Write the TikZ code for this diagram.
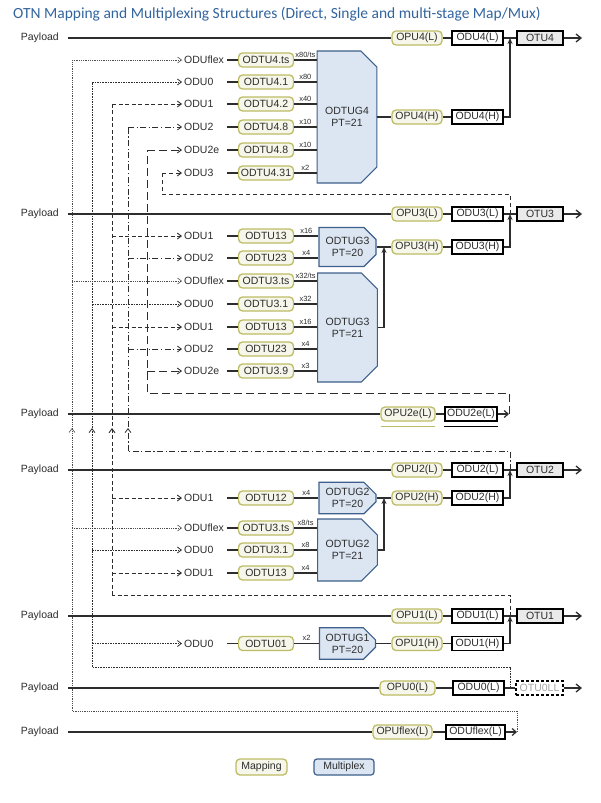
\documentclass[tikz,border=0pt]{standalone}
\usepackage{fontspec}
\setmainfont{Liberation Sans}
\newfontfamily\ttlfont{Carlito}
\usetikzlibrary{arrows.meta,shapes.misc,calc,decorations.markings}
\definecolor{ttl}{RGB}{50,100,158}
\definecolor{mapd}{RGB}{188,188,100}
\definecolor{mapf}{RGB}{246,246,234}
\definecolor{muxd}{RGB}{62,96,140}
\definecolor{muxf}{RGB}{220,230,242}
\definecolor{otuf}{RGB}{234,234,234}
\definecolor{ink}{RGB}{45,45,45}
\newcommand\otnrow[8]{%
  \node[lbl,anchor=west] (l#1) at (183,#2) {#3};
  \node[mapbox,minimum width=55] (t#1) at (266,#2) {#4};
  \draw[#7,-{Straight Barb[length=4pt,width=6pt]}] (l#1.west -| #6) -- ($(l#1.west)+(-1,0)$);
  \draw[conn] ($(t#1.west)+(-11,0)$) -- (t#1.west);
  \draw[conn] (t#1.east) -- (t#1.east -| #8.west) node[mult,midway] {#5};
}
\begin{document}
\begin{tikzpicture}[x=1pt,y=-1pt,
  lbl/.style={font=\fontsize{10.5}{12}\selectfont,text=ink,inner sep=1pt},
  mapbox/.style={lbl,draw=mapd,fill=mapf,rounded corners=4pt,line width=1.3pt,minimum height=14pt,inner sep=1.5pt},
  odubox/.style={lbl,draw=black,fill=white,line width=1.2pt,minimum height=14pt,inner sep=1.5pt},
  otubox/.style={odubox,fill=otuf},
  muxbox/.style={lbl,chamfered rectangle,chamfered rectangle corners={north east,south east},
    chamfered rectangle xsep=8pt,chamfered rectangle ysep=8pt,draw=muxd,fill=muxf,line width=1.1pt,
    align=center,inner sep=0pt},
  smallmux/.style={muxbox,chamfered rectangle xsep=6pt,chamfered rectangle ysep=6pt},
  conn/.style={draw=ink,line width=1.2pt},
  pay/.style={draw=ink,line width=1.3pt},
  mult/.style={font=\fontsize{7.5}{8}\selectfont,text=ink,inner sep=0.5pt,above=1.5pt},
  outarrow/.style={pay,-{Straight Barb[length=5pt,width=8pt]}},
  uparr/.style={conn,-{Stealth[length=6pt,width=5pt]}},
  sflex/.style={draw=ink!85,line width=0.6pt,dash pattern=on 0.8pt off 1pt},
  szero/.style={draw=ink,line width=0.8pt,dash pattern=on 1.6pt off 1pt},
  sone/.style={draw=ink,line width=0.9pt,dash pattern=on 4pt off 2.5pt},
  stwo/.style={draw=ink,line width=0.8pt,dash pattern=on 6pt off 2.5pt on 1.2pt off 2.5pt},
  stwoe/.style={draw=ink,line width=0.9pt,dash pattern=on 8pt off 4pt},
  sthree/.style={draw=ink,line width=0.9pt,dash pattern=on 4pt off 3pt},
  midup/.style={postaction={decorate},decoration={markings,mark=at position #1pt with {\arrow{Straight Barb[length=4pt,width=6pt]}}}}
]
\useasboundingbox (0,0) rectangle (600,803);

% title
\node[anchor=base west,font=\ttlfont\fontsize{15.5}{18}\selectfont,text=ttl,inner sep=0] (title) at (13,18)
  {OTN Mapping and Multiplexing Structures (Direct, Single and multi-stage Map/Mux)};

% payload labels
\node[lbl,anchor=east] (pl1) at (60,38) {Payload};
\node[lbl,anchor=east] (pl2) at (60,214) {Payload};
\node[lbl,anchor=east] (pl3) at (60,414) {Payload};
\node[lbl,anchor=east] (pl4) at (60,470) {Payload};
\node[lbl,anchor=east] (pl5) at (60,616) {Payload};
\node[lbl,anchor=east] (pl6) at (60,688) {Payload};
\node[lbl,anchor=east] (pl7) at (60,732) {Payload};

% vertical positions
\coordinate (vflex) at (72,0);
\coordinate (vzero) at (92,0);
\coordinate (vone) at (112,0);
\coordinate (vtwo) at (128,0);
\coordinate (vtwoe) at (147,0);
\coordinate (vthree) at (162,0);
\coordinate (cflex) at (72,711);
\coordinate (czero) at (92,667);
\coordinate (cone) at (112,595);
\coordinate (ctwo) at (128,451);
\coordinate (ctwoe) at (147,393);
\coordinate (cthree) at (162,194);

% ---------- ODU4 ----------
\node[mapbox,minimum width=50] (opu4l) at (417,38) {OPU4(L)};
\node[odubox,minimum width=51] (odu4l) at (477.5,38) {ODU4(L)};
\node[otubox,minimum width=46] (otu4) at (540,38) {OTU4};
\coordinate (end4) at (582,38);
\coordinate (j4) at ($(odu4l.east)!0.5!(otu4.west)$);
\node[mapbox,minimum width=50] (opu4h) at (417,117) {OPU4(H)};
\node[odubox,minimum width=51] (odu4h) at (477.5,117) {ODU4(H)};
\node[muxbox,minimum width=57,minimum height=132] (mux4) at (347,117) {ODTUG4\\PT=21};

% ---------- ODU3 ----------
\node[mapbox,minimum width=50] (opu3l) at (417,214) {OPU3(L)};
\node[odubox,minimum width=51] (odu3l) at (477.5,214) {ODU3(L)};
\node[otubox,minimum width=46] (otu3) at (540,214) {OTU3};
\coordinate (end3) at (582,214);
\coordinate (j3) at ($(odu3l.east)!0.5!(otu3.west)$);
\node[mapbox,minimum width=50] (opu3h) at (417,247) {OPU3(H)};
\node[odubox,minimum width=51] (odu3h) at (477.5,247) {ODU3(H)};
\node[smallmux,minimum width=57,minimum height=39] (mux3a) at (347.5,247) {ODTUG3\\PT=20};
\node[muxbox,minimum width=57,minimum height=109] (mux3b) at (347.5,327.5) {ODTUG3\\PT=21};
\coordinate (k3) at (384,247);

% ---------- ODU2e ----------
\node[mapbox,minimum width=54] (opu2el) at (408,414) {OPU2e(L)};
\node[odubox,minimum width=52] (odu2el) at (471,414) {ODU2e(L)};
\coordinate (e2e) at (509,414);

% ---------- ODU2 ----------
\node[mapbox,minimum width=50] (opu2l) at (417,470) {OPU2(L)};
\node[odubox,minimum width=51] (odu2l) at (477.5,470) {ODU2(L)};
\node[otubox,minimum width=46] (otu2) at (540,470) {OTU2};
\coordinate (end2) at (582,470);
\coordinate (j2) at ($(odu2l.east)!0.5!(otu2.west)$);
\node[mapbox,minimum width=50] (opu2h) at (417,498) {OPU2(H)};
\node[odubox,minimum width=51] (odu2h) at (477.5,498) {ODU2(H)};
\node[smallmux,minimum width=57,minimum height=27] (mux2a) at (347.5,498) {ODTUG2\\PT=20};
\node[muxbox,minimum width=57,minimum height=62] (mux2b) at (347.5,550) {ODTUG2\\PT=21};
\coordinate (k2) at (384,498);

% ---------- ODU1 ----------
\node[mapbox,minimum width=50] (opu1l) at (417,616) {OPU1(L)};
\node[odubox,minimum width=51] (odu1l) at (477.5,616) {ODU1(L)};
\node[otubox,minimum width=46] (otu1) at (540,616) {OTU1};
\coordinate (end1) at (582,616);
\coordinate (j1) at ($(odu1l.east)!0.5!(otu1.west)$);
\node[mapbox,minimum width=50] (opu1h) at (417,643.5) {OPU1(H)};
\node[odubox,minimum width=51] (odu1h) at (477.5,643.5) {ODU1(H)};
\node[smallmux,minimum width=56,minimum height=27] (mux1) at (347.5,643.5) {ODTUG1\\PT=20};

% ---------- ODU0 ----------
\node[mapbox,minimum width=55] (opu0l) at (407.5,688) {OPU0(L)};
\node[odubox,minimum width=51] (odu0l) at (478.5,688) {ODU0(L)};
\node[otubox,fill=white,dash pattern=on 3pt off 2pt,minimum width=47,text=black!35] (otu0) at (539.5,688) {OTU0LL};
\coordinate (end0) at (582,688);
\coordinate (j0) at ($(odu0l.east)!0.5!(otu0.west)$);

% ---------- ODUflex ----------
\node[mapbox,minimum width=59] (opufl) at (402.5,732) {OPUflex(L)};
\node[odubox,minimum width=59] (odufl) at (475.5,732) {ODUflex(L)};
\coordinate (eflex) at (517,732);

% ---------- tributary rows ----------
\otnrow{a1}{60}{ODUflex}{ODTU4.ts}{x80/ts}{vflex}{sflex}{mux4}
\otnrow{a2}{82}{ODU0}{ODTU4.1}{x80}{vzero}{szero}{mux4}
\otnrow{a3}{104}{ODU1}{ODTU4.2}{x40}{vone}{sone}{mux4}
\otnrow{a4}{127}{ODU2}{ODTU4.8}{x10}{vtwo}{stwo}{mux4}
\otnrow{a5}{150}{ODU2e}{ODTU4.8}{x10}{vtwoe}{stwoe}{mux4}
\otnrow{a6}{173}{ODU3}{ODTU4.31}{x2}{vthree}{sthree}{mux4}
\otnrow{b1}{236}{ODU1}{ODTU13}{x16}{vone}{sone}{mux3a}
\otnrow{b2}{258}{ODU2}{ODTU23}{x4}{vtwo}{stwo}{mux3a}
\otnrow{b3}{281}{ODUflex}{ODTU3.ts}{x32/ts}{vflex}{sflex}{mux3b}
\otnrow{b4}{304}{ODU0}{ODTU3.1}{x32}{vzero}{szero}{mux3b}
\otnrow{b5}{327}{ODU1}{ODTU13}{x16}{vone}{sone}{mux3b}
\otnrow{b6}{349}{ODU2}{ODTU23}{x4}{vtwo}{stwo}{mux3b}
\otnrow{b7}{371}{ODU2e}{ODTU3.9}{x3}{vtwoe}{stwoe}{mux3b}
\otnrow{c1}{498}{ODU1}{ODTU12}{x4}{vone}{sone}{mux2a}
\otnrow{c2}{528}{ODUflex}{ODTU3.ts}{x8/ts}{vflex}{sflex}{mux2b}
\otnrow{c3}{550}{ODU0}{ODTU3.1}{x8}{vzero}{szero}{mux2b}
\otnrow{c4}{573}{ODU1}{ODTU13}{x4}{vone}{sone}{mux2b}
\otnrow{d1}{643.5}{ODU0}{ODTU01}{x2}{vzero}{szero}{mux1}

% ---------- return lines ----------
\draw[sthree] (j3) |- (cthree) -- (la6.west -| vthree);
\draw[stwoe] (e2e) |- (ctwoe) -- (la5.west -| vtwoe);
\draw[stwo] (j2) |- (ctwo);
\draw[stwo,midup=23] (ctwo) -- (la4.west -| vtwo);
\draw[sone] (j1) |- (cone);
\draw[sone,midup=167] (cone) -- (la3.west -| vone);
\draw[szero] (j0) |- (czero);
\draw[szero,midup=239] (czero) -- (la2.west -| vzero);
\draw[sflex] (eflex) |- (cflex);
\draw[sflex,midup=283] (cflex) -- (la1.west -| vflex);

% ---------- payload and main chains ----------
\draw[pay,shorten <=8pt] (pl1.east) -- (opu4l.west);
\draw[conn] (opu4l.east) -- (odu4l.west);
\draw[conn] (odu4l.east) -- (otu4.west);
\draw[outarrow] (otu4.east) -- (end4);
\draw[conn] (mux4.east |- opu4h) -- (opu4h.west);
\draw[conn] (opu4h.east) -- (odu4h.west);
\draw[uparr] (odu4h.east) -| (j4);

\draw[pay,shorten <=8pt] (pl2.east) -- (opu3l.west);
\draw[conn] (opu3l.east) -- (odu3l.west);
\draw[conn] (odu3l.east) -- (otu3.west);
\draw[outarrow] (otu3.east) -- (end3);
\draw[conn] (mux3a.east |- opu3h) -- (opu3h.west);
\draw[uparr] (mux3b.east) -| (k3);
\draw[conn] (opu3h.east) -- (odu3h.west);
\draw[uparr] (odu3h.east) -| (j3);

\draw[pay,shorten <=8pt] (pl3.east) -- (opu2el.west);
\draw[conn] (opu2el.east) -- (odu2el.west);
\draw[conn,-{Straight Barb[length=4pt,width=7pt]}] (odu2el.east) -- (e2e);
\draw[mapd,line width=1.6pt] ($(opu2el.south west)+(1,5)$) -- ($(opu2el.south east)+(-1,5)$);
\draw[black,line width=1.6pt] ($(odu2el.south west)+(0,5)$) -- ($(odu2el.south east)+(0,5)$);

\draw[pay,shorten <=8pt] (pl4.east) -- (opu2l.west);
\draw[conn] (opu2l.east) -- (odu2l.west);
\draw[conn] (odu2l.east) -- (otu2.west);
\draw[outarrow] (otu2.east) -- (end2);
\draw[conn] (mux2a.east |- opu2h) -- (opu2h.west);
\draw[uparr] (mux2b.east) -| (k2);
\draw[conn] (opu2h.east) -- (odu2h.west);
\draw[uparr] (odu2h.east) -| (j2);

\draw[pay,shorten <=8pt] (pl5.east) -- (opu1l.west);
\draw[conn] (opu1l.east) -- (odu1l.west);
\draw[conn] (odu1l.east) -- (otu1.west);
\draw[outarrow] (otu1.east) -- (end1);
\draw[conn] (mux1.east |- opu1h) -- (opu1h.west);
\draw[conn] (opu1h.east) -- (odu1h.west);
\draw[uparr] (odu1h.east) -| (j1);

\draw[pay,shorten <=8pt] (pl6.east) -- (opu0l.west);
\draw[conn] (opu0l.east) -- (odu0l.west);
\draw[conn] (odu0l.east) -- (otu0.west);
\draw[outarrow] (otu0.east) -- (end0);

\draw[pay,shorten <=8pt] (pl7.east) -- (opufl.west);
\draw[conn] (opufl.east) -- (odufl.west);
\draw[conn,-{Straight Barb[length=4pt,width=7pt]}] (odufl.east) -- (eflex);

% ---------- legend ----------
\node[mapbox,minimum width=51,minimum height=16] (legmap) at (261.5,767) {Mapping};
\node[lbl,draw=muxd,fill=muxf,rounded corners=3pt,line width=1.2pt,minimum width=60,minimum height=16,inner sep=1.5pt] (legmux) at (344,767) {Multiplex};
\end{tikzpicture}
\end{document}
